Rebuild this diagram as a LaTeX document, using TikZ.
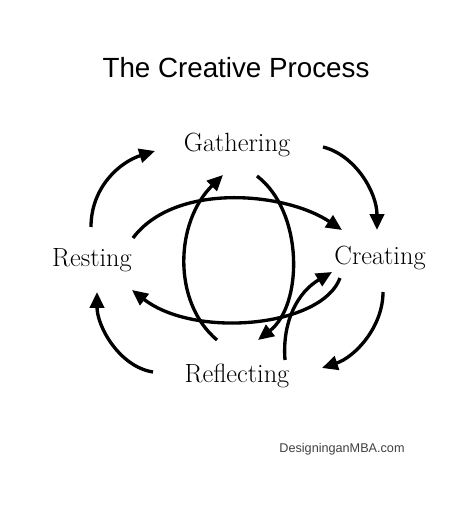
\documentclass[tikz,border=0pt]{standalone}
\usepackage{fontspec}
\newfontfamily\titlefont{Liberation Sans}
\usetikzlibrary{arrows.meta,calc}

\begin{document}
\begin{tikzpicture}[x=0.02cm,y=0.02cm,
		arr/.style={line width=1.9pt,-{Triangle[length=9pt,width=8pt]}},
		hand/.style={anchor=base,font=\fontsize{15}{18}\selectfont}]
	\useasboundingbox (0,0) rectangle (474,517);
	\node[anchor=base,font=\titlefont\fontsize{15.8}{19}\selectfont] (title) at (236,439) {The Creative Process};

	\node[hand] (gath) at (237,365) {Gathering};
	\node[hand] (rest) at (92,250) {Resting};
	\node[hand] (creat) at (380,252) {Creating};
	\node[hand] (refl) at (237,134) {Reflecting};

	\node[anchor=base,font=\titlefont\fontsize{7.2}{9}\selectfont,text=black!75] (site) at (342,64) {DesigninganMBA.com};

	\draw[arr] ($(rest.base)+(-1,40)$) .. controls +(0,40) and +(-35,-11) .. ($(gath.base)+(-82,1)$);
	\draw[arr] ($(gath.base)+(86,5)$) .. controls +(32,-8) and +(0,38) .. ($(creat.base)+(-3,35)$);
	\draw[arr] ($(creat.base)+(3,-27)$) .. controls +(0,-35) and +(33,11) .. ($(refl.base)+(85,15)$);
	\draw[arr] ($(refl.base)+(-84,11)$) .. controls +(-33,5) and +(0,-35) .. ($(rest.base)+(5,-25)$);

	\draw[arr] ($(rest.base)+(41,29)$) .. controls +(42,56) and +(-57,38) .. ($(creat.base)+(-38,35)$);
	\draw[arr] ($(creat.base)+(-40,-13)$) .. controls +(-18,-49) and +(63,-49) .. ($(rest.base)+(40,-23)$);
	\draw[arr] ($(refl.base)+(-20,43)$) .. controls +(-45,38) and +(-48,-47) .. ($(gath.base)+(-14,-23)$);
	\draw[arr] ($(gath.base)+(20,-24)$) .. controls +(47,-36) and +(45,35) .. ($(refl.base)+(21,43)$);
	\draw[arr] ($(refl.base)+(48,23)$) .. controls +(-3,39) and +(-34,-20) .. ($(creat.base)+(-48,-7)$);
\end{tikzpicture}
\end{document}
